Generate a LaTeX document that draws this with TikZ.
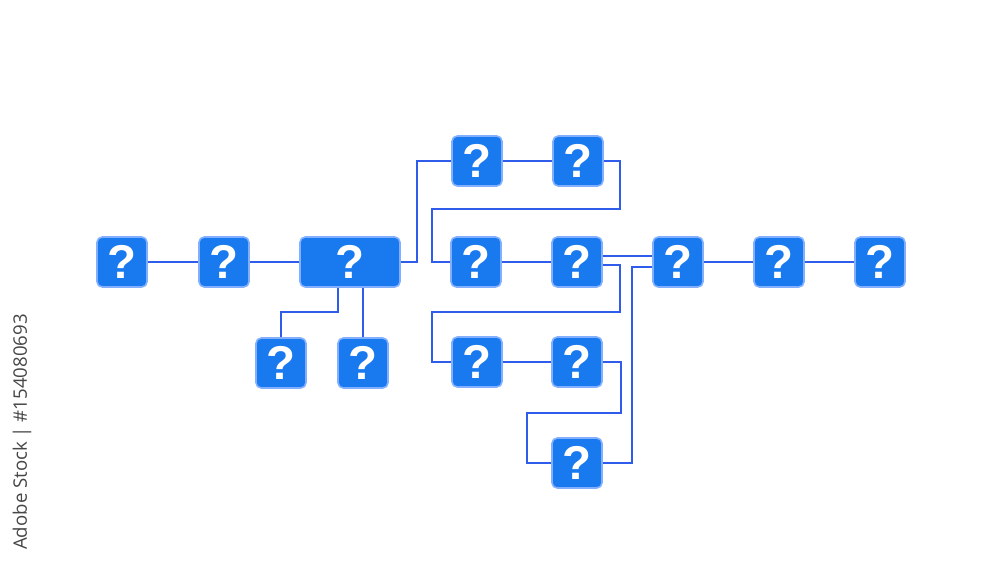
\documentclass[tikz,border=0pt]{standalone}
\usepackage{fontspec}
\setmainfont{Liberation Sans}
\newfontfamily\wmfont{Open Sans}
\usetikzlibrary{calc}
\definecolor{boxblue}{RGB}{24,122,238}
\definecolor{glowblue}{RGB}{130,175,255}
\definecolor{lineblue}{RGB}{48,92,236}
\definecolor{wmgray}{RGB}{70,70,70}
\tikzset{
  qbox/.style={fill=boxblue, draw=glowblue, line width=0.9pt, rounded corners=3pt,
    minimum width=1cm, minimum height=1cm, inner sep=0pt, text=white,
    font=\fontsize{27}{27}\selectfont\bfseries},
  widebox/.style={qbox, minimum width=2cm},
  link/.style={draw=lineblue, line width=1.6pt}
}
\begin{document}
\begin{tikzpicture}[x=0.02cm,y=-0.02cm]
\useasboundingbox (0,0) rectangle (1000,562);
% connectors
\coordinate (j1) at (338,312);
\coordinate (j2) at (417,262);
\coordinate (k1) at (620,209);
\coordinate (k2) at (432,209);
\coordinate (k3) at (620,312);
\coordinate (k4) at (432,312);
\coordinate (k5) at (621,413);
\coordinate (k6) at (527,413);
\coordinate (k7) at (632,267);
% nodes
\node[qbox] (a1) at (122,262) {?};
\node[qbox] (a2) at (224,262) {?};
\node[widebox] (big) at (350,262) {?};
\node[qbox] (b1) at (281,363) {?};
\node[qbox] (b2) at (363,363) {?};
\node[qbox] (t1) at (477,161) {?};
\node[qbox] (t2) at (578,161) {?};
\node[qbox] (m1) at (476,262) {?};
\node[qbox] (m2) at (577,262) {?};
\node[qbox] (m3) at (678,262) {?};
\node[qbox] (m4) at (779,262) {?};
\node[qbox] (m5) at (880,262) {?};
\node[qbox] (r1) at (477,362) {?};
\node[qbox] (r2) at (577,362) {?};
\node[qbox] (s1) at (577,463) {?};
% links
\draw[link] (a1.east) -- (a2.west);
\draw[link] (a2.east) -- (big.west);
\draw[link] (big.south -| j1) -- (j1) -| (b1.north);
\draw[link] (big.south -| b2.north) -- (b2.north);
\draw[link] (big.east) -- (j2) |- (t1.west);
\draw[link] (t1.east) -- (t2.west);
\draw[link] (t2.east) -| (k1) -- (k2) |- (m1.west);
\draw[link] (m1.east) -- (m2.west);
\draw[link] ($(m2.east)+(0,-6)$) -- ($(m3.west)+(0,-6)$);
\draw[link] ($(m2.east)+(0,3)$) -| (k3) -- (k4) |- (r1.west);
\draw[link] (r1.east) -- (r2.west);
\draw[link] (r2.east) -| (k5) -- (k6) |- (s1.west);
\draw[link] (s1.east) -| (k7) -- ($(m3.west)+(0,5)$);
\draw[link] (m3.east) -- (m4.west);
\draw[link] (m4.east) -- (m5.west);
% side text
\node[rotate=90, text=wmgray, font=\wmfont\fontsize{10.6}{11}\selectfont, inner sep=0pt] (wm) at (22,432) {Adobe Stock | \#154080693};
\end{tikzpicture}
\end{document}
